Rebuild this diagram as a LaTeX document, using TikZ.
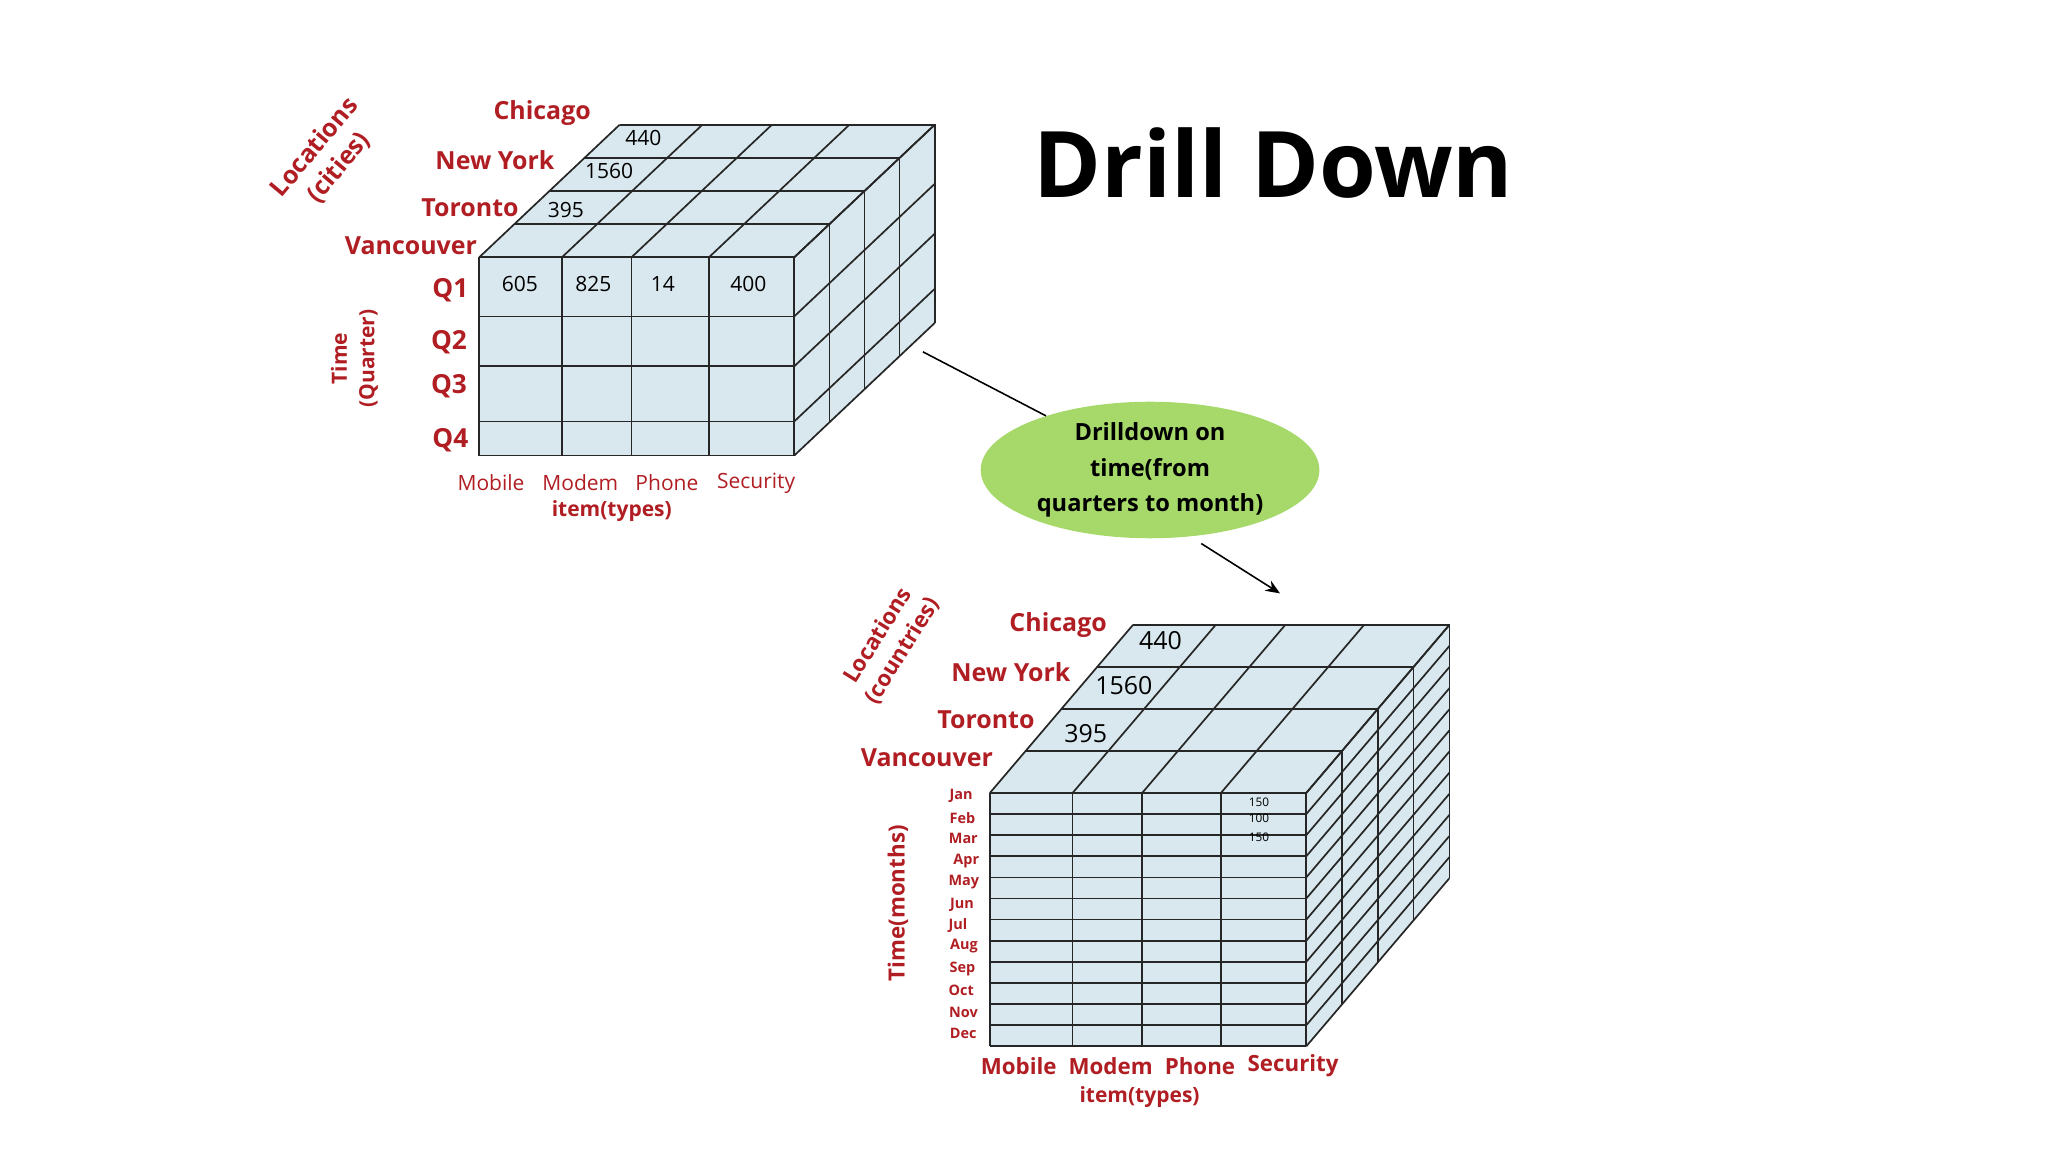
\documentclass[tikz,border=0pt]{standalone}
\usepackage{fontspec}
\setmainfont{Open Sans}
\usetikzlibrary{shapes.geometric,arrows.meta}
\definecolor{lbl}{HTML}{B01E23}
\definecolor{cell}{HTML}{D9E8EE}
\definecolor{bubble}{HTML}{A6D96A}
\tikzset{
 grid/.style={draw=black!85,line width=1.3pt},
 lab/.style={text=lbl,font=\bfseries\fontsize{19}{22}\selectfont,inner sep=1pt},
 axis/.style={text=lbl,font=\fontsize{16}{19}\selectfont,inner sep=1pt},
 val/.style={font=\fontsize{16}{18}\selectfont,inner sep=1pt},
 mon/.style={text=lbl,font=\bfseries\fontsize{11}{13}\selectfont,anchor=east,inner sep=1pt},
}
\begin{document}
\begin{tikzpicture}[x=1pt,y=-1pt]
\useasboundingbox (0,0) rectangle (1560,877.5);
% ---------- top cube ----------
\def\dx{26.75}\def\dy{-25.25}
\fill[cell] (365,196) -- (605,196) -- (605+4*\dx,196+4*\dy) -- (365+4*\dx,196+4*\dy) -- cycle;
\fill[cell] (365,196) rectangle (605,347);
\fill[cell] (605,196) -- (605+4*\dx,196+4*\dy) -- (605+4*\dx,347+4*\dy) -- (605,347) -- cycle;
\foreach \c in {365,428,481,540,605}{
  \draw[grid] (\c,196) -- (\c,347);
  \draw[grid] (\c,196) -- (\c+4*\dx,196+4*\dy);}
\foreach \r in {196,241,279,321,347}{
  \draw[grid] (365,\r) -- (605,\r);
  \draw[grid] (605,\r) -- (605+4*\dx,\r+4*\dy);}
\foreach \k in {1,2,3,4}{
  \draw[grid] (365+\k*\dx,196+\k*\dy) -- (605+\k*\dx,196+\k*\dy) -- (605+\k*\dx,347+\k*\dy);}
\node[lab] (tchi) at (413,86) {Chicago};
\node[lab] (tny) at (377,122) {New York};
\node[lab] (tto) at (358,158) {Toronto};
\node[lab] (tva) at (313,187) {Vancouver};
\node[val] (t440) at (490,105) {440};
\node[val] (t1560) at (464,130) {1560};
\node[val] (t395) at (431,160) {395};
\node[val] (t605) at (396,216) {605};
\node[val] (t825) at (452,216) {825};
\node[val] (t14) at (505,216) {14};
\node[val] (t400) at (570,216) {400};
\node[lab,font=\bfseries\fontsize{20}{22}\selectfont] (tq1) at (343,221) {Q1};
\node[lab,font=\bfseries\fontsize{20}{22}\selectfont] (tq2) at (342,261) {Q2};
\node[lab,font=\bfseries\fontsize{20}{22}\selectfont] (tq3) at (342,294) {Q3};
\node[lab,font=\bfseries\fontsize{20}{22}\selectfont] (tq4) at (343,335) {Q4};
\node[lab,rotate=90,align=center,font=\bfseries\fontsize{16}{21}\selectfont] (ttime) at (270,273) {Time\\(Quarter)};
\node[lab,rotate=50,align=center,font=\bfseries\fontsize{19}{24}\selectfont] (tloc) at (249,120) {Locations\\(cities)};
\node[axis] (tmob) at (374,368) {Mobile};
\node[axis] (tmod) at (442,368) {Modem};
\node[axis] (tpho) at (508,368) {Phone};
\node[axis] (tsec) at (576,368) {Security};
\node[lab,font=\bfseries\fontsize{16}{19}\selectfont] (titem) at (466,389) {item(types)};
% ---------- title ----------
\node[font=\bfseries\fontsize{70}{72}\selectfont,inner sep=0pt] (title) at (970,124) {Drill Down};
% ---------- bubble ----------
\node[ellipse,fill=bubble,minimum width=258,minimum height=104,align=center,inner sep=0pt,
 font=\bfseries\fontsize{18}{27}\selectfont] (bub) at (876,358) {Drilldown on\\time(from\\quarters to month)};
\coordinate (c1) at (703,268);
\coordinate (c2) at (915,414);
\coordinate (c3) at (975,452);
\draw[line width=1.2pt] (c1) -- (bub);
\draw[line width=1.2pt,-{Stealth[length=11pt,width=9pt]}] (c2) -- (c3);
% ---------- bottom cube ----------
\def\ex{27.25}\def\ey{-32}
\fill[cell] (754,604) -- (995,604) -- (995+4*\ex,604+4*\ey) -- (754+4*\ex,604+4*\ey) -- cycle;
\fill[cell] (754,604) rectangle (995,797);
\fill[cell] (995,604) -- (995+4*\ex,604+4*\ey) -- (995+4*\ex,797+4*\ey) -- (995,797) -- cycle;
\foreach \c in {754,817,870,930,995}{
  \draw[grid] (\c,604) -- (\c,797);
  \draw[grid] (\c,604) -- (\c+4*\ex,604+4*\ey);}
\foreach \i in {0,...,12}{
  \pgfmathsetmacro\r{604+\i*193/12}
  \draw[grid] (754,\r) -- (995,\r);
  \draw[grid] (995,\r) -- (995+4*\ex,\r+4*\ey);}
\foreach \k in {1,2,3,4}{
  \draw[grid] (754+\k*\ex,604+\k*\ey) -- (995+\k*\ex,604+\k*\ey) -- (995+\k*\ex,797+\k*\ey);}
\node[lab] (bchi) at (806,476) {Chicago};
\node[lab] (bny) at (770,512) {New York};
\node[lab] (bto) at (751,548) {Toronto};
\node[lab] (bva) at (706,577) {Vancouver};
\node[val,font=\fontsize{19}{20}\selectfont] (b440) at (884,488) {440};
\node[val,font=\fontsize{19}{20}\selectfont] (b1560) at (856,522) {1560};
\node[val,font=\fontsize{19}{20}\selectfont] (b395) at (827,559) {395};
\node[font=\fontsize{9}{9}\selectfont,inner sep=0pt] (v1) at (959,611) {150};
\node[font=\fontsize{9}{9}\selectfont,inner sep=0pt] (v2) at (959,623) {100};
\node[font=\fontsize{9}{9}\selectfont,inner sep=0pt] (v3) at (959,638) {150};
\node[mon] (m1) at (742,606) {Jan};
\node[mon] (m2) at (744,623) {Feb};
\node[mon] (m3) at (746,639) {Mar};
\node[mon] (m4) at (747,656) {Apr};
\node[mon] (m5) at (747,672) {May};
\node[mon] (m6) at (743,689) {Jun};
\node[mon] (m7) at (738,705) {Jul};
\node[mon] (m8) at (746,721) {Aug};
\node[mon] (m9) at (744,738) {Sep};
\node[mon] (m10) at (743,754) {Oct};
\node[mon] (m11) at (746,771) {Nov};
\node[mon] (m12) at (745,787) {Dec};
\node[lab,rotate=90,font=\bfseries\fontsize{17}{19}\selectfont] (btime) at (684,688) {Time(months)};
\node[lab,rotate=58,align=center,font=\bfseries\fontsize{17}{22}\selectfont] (bloc) at (678,490) {Locations\\(countries)};
\node[lab,font=\bfseries\fontsize{17}{19}\selectfont] (bmob) at (776,812) {Mobile};
\node[lab,font=\bfseries\fontsize{17}{19}\selectfont] (bmod) at (846,812) {Modem};
\node[lab,font=\bfseries\fontsize{17}{19}\selectfont] (bpho) at (914,812) {Phone};
\node[lab,font=\bfseries\fontsize{17}{19}\selectfont] (bsec) at (985,812) {Security};
\node[lab,font=\bfseries\fontsize{16}{19}\selectfont] (bitem) at (868,836) {item(types)};
\end{tikzpicture}
\end{document}
